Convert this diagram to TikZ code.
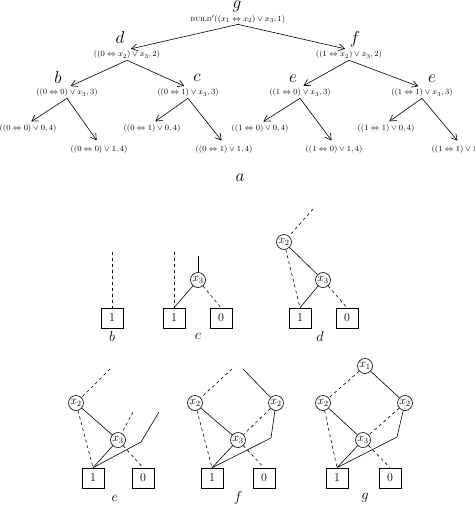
\documentclass[tikz,border=0pt]{standalone}
\usepackage{amsmath}
\usetikzlibrary{arrows.meta}

\begin{document}
\begin{tikzpicture}[x=1pt,y=-1pt,semithick,
		lab/.style={font=\footnotesize,inner sep=1pt},
		callname/.style={font=\LARGE,inner sep=0pt},
		var/.style={draw,circle,inner sep=0pt,minimum size=15pt,font=\large},
		term/.style={draw,rectangle,inner sep=0pt,minimum width=22pt,minimum height=20pt,font=\large},
		arr/.style={-{Straight Barb[length=6pt,width=7pt]},shorten >=4pt},
		lo/.style={dashed},
		tag/.style={font=\Large}]
		\useasboundingbox (0,0) rectangle (474,508);
		% the calls of build'
		\node [callname] (g) at (237,6) {$g$};
		\node [lab] (gl) at (238,19) {\textsc{build}$'((x_1\Leftrightarrow x_2)\vee x_3,1)$};
		\node [callname] (d) at (120,38) {$d$};
		\node [lab] (dl) at (127,55) {$((0\Leftrightarrow x_2)\vee x_3,2)$};
		\node [callname] (f) at (355,39) {$f$};
		\node [lab] (fl) at (349,55) {$((1\Leftrightarrow x_2)\vee x_3,2)$};
		\node [callname] (b) at (58,78) {$b$};
		\node [lab] (bl) at (67,93) {$((0\Leftrightarrow 0)\vee x_3,3)$};
		\node [callname] (c) at (197,78) {$c$};
		\node [lab] (cl) at (188,93) {$((0\Leftrightarrow 1)\vee x_3,3)$};
		\node [callname] (e1) at (293,79) {$e$};
		\node [lab] (e1l) at (300,93) {$((1\Leftrightarrow 0)\vee x_3,3)$};
		\node [callname] (e2) at (432,79) {$e$};
		\node [lab] (e2l) at (422,93) {$((1\Leftrightarrow 1)\vee x_3,3)$};
		\node [lab] (b0) at (28,129) {$((0\Leftrightarrow 0)\vee 0,4)$};
		\node [lab] (b1) at (99,149) {$((0\Leftrightarrow 0)\vee 1,4)$};
		\node [lab] (c0) at (152,129) {$((0\Leftrightarrow 1)\vee 0,4)$};
		\node [lab] (c1) at (224,149) {$((0\Leftrightarrow 1)\vee 1,4)$};
		\node [lab] (e10) at (260,129) {$((1\Leftrightarrow 0)\vee 0,4)$};
		\node [lab] (e11) at (334,149) {$((1\Leftrightarrow 0)\vee 1,4)$};
		\node [lab] (e20) at (386,129) {$((1\Leftrightarrow 1)\vee 0,4)$};
		\node [lab] (e21) at (460,149) {$((1\Leftrightarrow 1)\vee 1,4)$};
		\draw [arr] (gl.south) -- (dl.north);
		\draw [arr] (gl.south) -- (fl.north);
		\draw [arr] (dl.south) -- (bl.north);
		\draw [arr] (dl.south) -- (cl.north);
		\draw [arr] (fl.south) -- (e1l.north);
		\draw [arr] (fl.south) -- (e2l.north);
		\draw [arr] (bl.south) -- (b0.north);
		\draw [arr] (bl.south) -- (b1.north);
		\draw [arr] (cl.south) -- (c0.north);
		\draw [arr] (cl.south) -- (c1.north);
		\draw [arr] (e1l.south) -- (e10.north);
		\draw [arr] (e1l.south) -- (e11.north);
		\draw [arr] (e2l.south) -- (e20.north);
		\draw [arr] (e2l.south) -- (e21.north);
		\node [tag,font=\LARGE] (a) at (240,178) {$a$};
		% b
		\node [term] (bone) at (112,318) {1};
		\coordinate (btop) at (112,252);
		\draw [lo] (btop) -- (bone.north);
		\node [tag] at (112,336) {$b$};
		% c
		\node [term] (cone) at (174,318) {1};
		\node [term] (czero) at (221,318) {0};
		\node [var] (cx3) at (198,280) {$x_3$};
		\coordinate (ctopl) at (174,252);
		\coordinate (ctopr) at (198,256);
		\draw [lo] (ctopl) -- (cone.north);
		\draw (ctopr) -- (cx3);
		\draw (cx3) -- (cone.north);
		\draw [lo] (cx3) -- (czero.north);
		\node [tag] at (198,336) {$c$};
		% d
		\node [term] (done) at (300,318) {1};
		\node [term] (dzero) at (347,318) {0};
		\node [var] (dx2) at (284,242) {$x_2$};
		\node [var] (dx3) at (323,280) {$x_3$};
		\coordinate (dtop) at (313,209);
		\draw [lo] (dtop) -- (dx2);
		\draw (dx2) -- (dx3);
		\draw [lo] (dx2) -- (done.north);
		\draw (dx3) -- (done.north);
		\draw [lo] (dx3) -- (dzero.north);
		\node [tag] at (320,336) {$d$};
		% e
		\node [term] (eone) at (93,478) {1};
		\node [term] (ezero) at (143,478) {0};
		\node [var] (ex2) at (76,403) {$x_2$};
		\node [var] (ex3) at (118,440) {$x_3$};
		\coordinate (etopl) at (110,369);
		\coordinate (etopm) at (133,412);
		\coordinate (etopr) at (159,412);
		\coordinate (ebend) at (141,442);
		\draw [lo] (etopl) -- (ex2);
		\draw (ex2) -- (ex3);
		\draw [lo] (ex2) -- (eone.north);
		\draw [lo] (etopm) -- (ex3);
		\draw (ex3) -- (eone.north);
		\draw [lo] (ex3) -- (ezero.north);
		\draw (etopr) -- (ebend) -- (eone.north);
		\node [tag] at (115,498) {$e$};
		% f
		\node [term] (fone) at (212,478) {1};
		\node [term] (fzero) at (264,478) {0};
		\node [var] (fx2l) at (195,403) {$x_2$};
		\node [var] (fx2r) at (276,403) {$x_2$};
		\node [var] (fx3) at (238,440) {$x_3$};
		\coordinate (ftopl) at (232,369);
		\coordinate (ftopr) at (243,369);
		\coordinate (fbend) at (271,438);
		\draw [lo] (ftopl) -- (fx2l);
		\draw (ftopr) -- (fx2r);
		\draw (fx2l) -- (fx3);
		\draw [lo] (fx2l) -- (fone.north);
		\draw [lo] (fx2r) -- (fx3);
		\draw (fx2r) -- (fbend) -- (fone.north);
		\draw (fx3) -- (fone.north);
		\draw [lo] (fx3) -- (fzero.north);
		\node [tag] at (238,498) {$f$};
		% g
		\node [term] (gone) at (337,478) {1};
		\node [term] (gzero) at (390,478) {0};
		\node [var] (gx1) at (365,366) {$x_1$};
		\node [var] (gx2l) at (323,403) {$x_2$};
		\node [var] (gx2r) at (405,403) {$x_2$};
		\node [var] (gx3) at (363,440) {$x_3$};
		\coordinate (gbend) at (397,437);
		\draw [lo] (gx1) -- (gx2l);
		\draw (gx1) -- (gx2r);
		\draw (gx2l) -- (gx3);
		\draw [lo] (gx2l) -- (gone.north);
		\draw [lo] (gx2r) -- (gx3);
		\draw (gx2r) -- (gbend) -- (gone.north);
		\draw (gx3) -- (gone.north);
		\draw [lo] (gx3) -- (gzero.north);
		\node [tag] at (365,498) {$g$};
	\end{tikzpicture}
\end{document}
